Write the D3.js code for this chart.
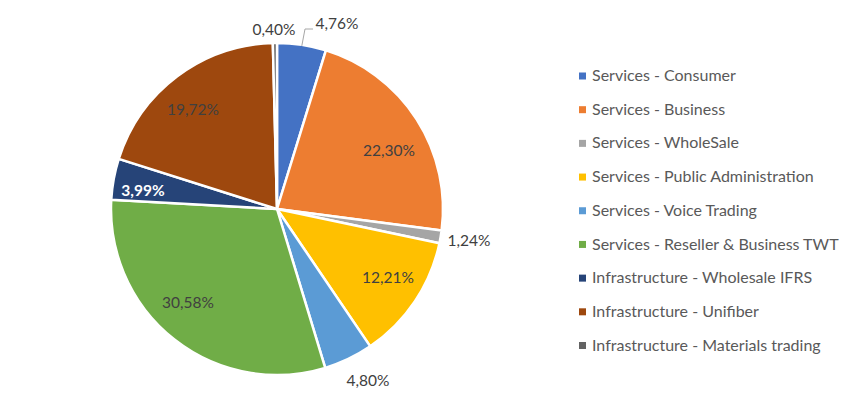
<!DOCTYPE html>
<html>
<head>
<meta charset="utf-8">
<script src="https://cdn.jsdelivr.net/npm/d3@7"></script>
<style>
  body { margin: 0; background: #fff; }
  svg text { font-family: Lato, "Open Sans", sans-serif; }
</style>
</head>
<body>
<div id="chart"></div>
<script>
// data
const categories = [
  "Services - Consumer",
  "Services - Business",
  "Services - WholeSale",
  "Services - Public Administration",
  "Services - Voice Trading",
  "Services - Reseller & Business TWT",
  "Infrastructure - Wholesale IFRS",
  "Infrastructure - Unifiber",
  "Infrastructure - Materials trading"
];
const shares = [4.76, 22.30, 1.24, 12.21, 4.80, 30.58, 3.99, 19.72, 0.40];
const labels = ["4,76%", "22,30%", "1,24%", "12,21%", "4,80%", "30,58%", "3,99%", "19,72%", "0,40%"];
const colors = ["#4472C4", "#ED7D31", "#A5A5A5", "#FFC000", "#5B9BD5", "#70AD47", "#264478", "#9E480E", "#636363"];

let width = 854, height = 414;
let cx = 277, cy = 209, radius = 166;

let svg = d3.select("#chart").append("svg")
  .attr("width", width)
  .attr("height", height);

let pie = d3.pie().sort(null).value(d => d);
let arcs = pie(shares);

let arc = d3.arc().innerRadius(0).outerRadius(radius);

let g = svg.append("g").attr("transform", "translate(" + cx + "," + cy + ")");

g.selectAll("path.slice")
  .data(arcs)
  .enter().append("path")
  .attr("class", "slice")
  .attr("d", arc)
  .attr("fill", (d, i) => colors[i])
  .attr("stroke", "#fff")
  .attr("stroke-width", 2.5)
  .attr("stroke-linejoin", "round");

// label centres, Excel "best fit" style, tuned by eye
let labelPos = [
  [337, 24],
  [389, 151],
  [469, 241],
  [388, 278],
  [368, 381],
  [188, 303],
  [143, 191],
  [193, 110],
  [274, 30]
];

arcs.forEach(function(d, i) {
  let white = i == 6;
  svg.append("text")
    .attr("x", labelPos[i][0])
    .attr("y", labelPos[i][1])
    .attr("dy", "0.35em")
    .attr("text-anchor", "middle")
    .attr("font-size", 15.5)
    .attr("font-weight", white ? "bold" : "normal")
    .attr("fill", white ? "#fff" : "#404040")
    .text(labels[i]);
});

// leader line for the first slice
let a = arcs[0].startAngle + 0.15;
svg.append("polyline")
  .attr("points", (cx + Math.sin(a) * radius) + "," + (cy - Math.cos(a) * radius + 1) +
    " 305,29 313,29")
  .attr("fill", "none")
  .attr("stroke", "#a6a6a6")
  .attr("stroke-width", 1);

// legend
let legendY = d3.scalePoint()
  .domain(categories)
  .range([75.5, 345]);

let legend = svg.selectAll("g.legend")
  .data(categories)
  .enter().append("g")
  .attr("class", "legend")
  .attr("transform", d => "translate(579," + legendY(d) + ")");

legend.append("rect")
  .attr("x", 0)
  .attr("y", -3)
  .attr("width", 7)
  .attr("height", 7)
  .attr("fill", (d, i) => colors[i]);

legend.append("text")
  .attr("x", 13)
  .attr("y", 0)
  .attr("dy", "0.35em")
  .attr("font-size", 16)
  .attr("fill", "#595959")
  .text(d => d);
</script>
</body>
</html>
